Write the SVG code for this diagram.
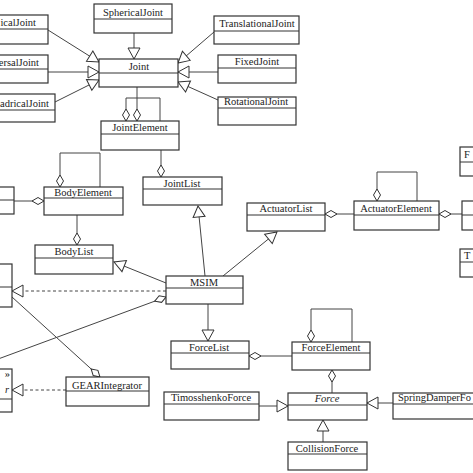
<svg xmlns="http://www.w3.org/2000/svg" width="473" height="473" viewBox="0 0 473 473">
<style>
.b{fill:#fff;stroke:#333;stroke-width:1.2}
.d{stroke:#333;stroke-width:1}
.t{font-family:"Liberation Serif","Times New Roman",serif;font-size:10.5px;fill:#222;text-anchor:middle}
.e{text-anchor:end}
.s{text-anchor:start}
.c{fill:none;stroke:#444;stroke-width:1}
.dash{stroke-dasharray:3,2.5}
</style>
<defs>
<marker id="tri" markerUnits="userSpaceOnUse" markerWidth="14" markerHeight="14" refX="11" refY="7" orient="auto" overflow="visible"><path d="M0,1 L11,7 L0,13 Z" fill="#fff" stroke="#333" stroke-width="1"/></marker>
<marker id="dia" markerUnits="userSpaceOnUse" markerWidth="14" markerHeight="8" refX="12" refY="3.5" orient="auto" overflow="visible"><path d="M0,3.5 L6,0 L12,3.5 L6,7 Z" fill="#fff" stroke="#333" stroke-width="1"/></marker>
</defs>
<rect width="473" height="473" fill="#fff"/>

<g id="connectors">
<path class="c" d="M48,30 L99,62" marker-end="url(#tri)"/>
<path class="c" d="M48,72 L99,72" marker-end="url(#tri)"/>
<path class="c" d="M55,102 L99,80" marker-end="url(#tri)"/>
<path class="c" d="M134,33 L134,59" marker-end="url(#tri)"/>
<path class="c" d="M214,32 L178,63" marker-end="url(#tri)"/>
<path class="c" d="M218,72 L178,72" marker-end="url(#tri)"/>
<path class="c" d="M218,100 L178,82" marker-end="url(#tri)"/>
<path class="c" d="M137,87 L137,121" marker-end="url(#dia)"/>
<path class="c" d="M160,121 L160,98 L126,98 L126,121" marker-end="url(#dia)"/>
<path class="c" d="M161,150 L161,177" marker-end="url(#dia)"/>
<path class="c" d="M100,187 L100,153 L60,153 L60,187" marker-end="url(#dia)"/>
<path class="c" d="M14,201 L44,201" marker-end="url(#dia)"/>
<path class="c" d="M77,215 L77,245" marker-end="url(#dia)"/>
<path class="c" d="M166,283 L114,262" marker-end="url(#tri)"/>
<path class="c" d="M205,276 L198,206" marker-end="url(#tri)"/>
<path class="c" d="M223,276 L277,232" marker-end="url(#tri)"/>
<path class="c dash" d="M166,291 L12,291" marker-end="url(#tri)"/>
<path class="c" d="M-10,362 L166,297" marker-end="url(#dia)"/>
<path class="c" d="M12,297 L100,377" marker-end="url(#dia)"/>
<path class="c dash" d="M66,390 L12,390" marker-end="url(#tri)"/>
<path class="c" d="M208,304 L208,341" marker-end="url(#tri)"/>
<path class="c" d="M292,356 L249,356" marker-end="url(#dia)"/>
<path class="c" d="M352,342 L352,309 L311,309 L311,342" marker-end="url(#dia)"/>
<path class="c" d="M332,393 L332,370" marker-end="url(#dia)"/>
<path class="c" d="M259,406 L288,406" marker-end="url(#tri)"/>
<path class="c" d="M393,403 L367,403" marker-end="url(#tri)"/>
<path class="c" d="M323,442 L323,420" marker-end="url(#tri)"/>
<path class="c" d="M354,214 L325,214" marker-end="url(#dia)"/>
<path class="c" d="M417,201 L417,172 L377,172 L377,201" marker-end="url(#dia)"/>
<path class="c" d="M462,214 L439,214" marker-end="url(#dia)"/>
</g>

<g id="icalJoint"><rect class="b" x="-5" y="15" width="53" height="29"/><line class="d" x1="-5" y1="29" x2="48" y2="29"/><text class="t e" x="36" y="26">icalJoint</text></g>
<g id="ersalJoint"><rect class="b" x="-5" y="55" width="53" height="28"/><line class="d" x1="-5" y1="69" x2="48" y2="69"/><text class="t e" x="39" y="66">ersalJoint</text></g>
<g id="adricalJoint"><rect class="b" x="-5" y="94" width="60" height="28"/><line class="d" x1="-5" y1="110" x2="55" y2="110"/><text class="t e" x="49" y="107">adricalJoint</text></g>
<g id="SphericalJoint"><rect class="b" x="94" y="4" width="78" height="29"/><line class="d" x1="94" y1="19" x2="172" y2="19"/><text class="t" x="133" y="16">SphericalJoint</text></g>
<g id="Joint"><rect class="b" x="99" y="59" width="79" height="28"/><line class="d" x1="99" y1="73" x2="178" y2="73"/><text class="t" x="139" y="70">Joint</text></g>
<g id="TranslationalJoint"><rect class="b" x="214" y="16" width="85" height="28"/><line class="d" x1="214" y1="31" x2="299" y2="31"/><text class="t" x="257" y="27" font-size="10">TranslationalJoint</text></g>
<g id="FixedJoint"><rect class="b" x="218" y="55" width="78" height="28"/><line class="d" x1="218" y1="68" x2="296" y2="68"/><text class="t" x="257" y="65">FixedJoint</text></g>
<g id="RotationalJoint"><rect class="b" x="218" y="97" width="78" height="28"/><line class="d" x1="218" y1="108" x2="296" y2="108"/><text class="t" x="256" y="105">RotationalJoint</text></g>
<g id="JointElement"><rect class="b" x="101" y="121" width="78" height="29"/><line class="d" x1="101" y1="134" x2="179" y2="134"/><text class="t" x="140" y="131">JointElement</text></g>
<g id="JointList"><rect class="b" x="143" y="177" width="79" height="28"/><line class="d" x1="143" y1="189" x2="222" y2="189"/><text class="t" x="182" y="187">JointList</text></g>
<g id="LeftBox1"><rect class="b" x="-5" y="187" width="19" height="27"/><line class="d" x1="-5" y1="200" x2="14" y2="200"/></g>
<g id="BodyElement"><rect class="b" x="44" y="187" width="79" height="28"/><line class="d" x1="44" y1="198" x2="123" y2="198"/><text class="t" x="83" y="196">BodyElement</text></g>
<g id="BodyList"><rect class="b" x="35" y="245" width="78" height="29"/><line class="d" x1="35" y1="258" x2="113" y2="258"/><text class="t" x="74" y="255">BodyList</text></g>
<g id="LeftInterface1"><rect class="b" x="-5" y="264" width="17" height="43"/><line class="d" x1="-5" y1="287" x2="12" y2="287"/></g>
<g id="MSIM"><rect class="b" x="166" y="276" width="77" height="28"/><line class="d" x1="166" y1="288" x2="243" y2="288"/><text class="t" x="204" y="286">MSIM</text></g>
<g id="ActuatorList"><rect class="b" x="247" y="203" width="78" height="28"/><line class="d" x1="247" y1="215" x2="325" y2="215"/><text class="t" x="286" y="212">ActuatorList</text></g>
<g id="ActuatorElement"><rect class="b" x="354" y="201" width="85" height="29"/><line class="d" x1="354" y1="215" x2="439" y2="215"/><text class="t" x="396" y="212">ActuatorElement</text></g>
<g id="RightF"><rect class="b" x="460" y="147" width="20" height="29"/><line class="d" x1="460" y1="162" x2="480" y2="162"/><text class="t s" x="464" y="158">F</text></g>
<g id="RightMid"><rect class="b" x="462" y="201" width="20" height="29"/><line class="d" x1="462" y1="215" x2="482" y2="215"/></g>
<g id="RightT"><rect class="b" x="460" y="249" width="20" height="28"/><line class="d" x1="460" y1="262" x2="480" y2="262"/><text class="t s" x="464" y="259">T</text></g>
<g id="ForceList"><rect class="b" x="171" y="341" width="78" height="28"/><line class="d" x1="171" y1="353" x2="249" y2="353"/><text class="t" x="209" y="351">ForceList</text></g>
<g id="ForceElement"><rect class="b" x="292" y="342" width="78" height="28"/><line class="d" x1="292" y1="353" x2="370" y2="353"/><text class="t" x="331" y="351">ForceElement</text></g>
<g id="Force"><rect class="b" x="288" y="393" width="79" height="27"/><line class="d" x1="288" y1="405" x2="367" y2="405"/><text class="t" x="327" y="402" font-style="italic">Force</text></g>
<g id="TimosshenkoForce"><rect class="b" x="164" y="392" width="95" height="28"/><line class="d" x1="164" y1="404" x2="259" y2="404"/><text class="t" x="211" y="401">TimosshenkoForce</text></g>
<g id="SpringDamperForce"><rect class="b" x="393" y="393" width="90" height="26"/><line class="d" x1="393" y1="404" x2="483" y2="404"/><text class="t s" x="398" y="401">SpringDamperFo</text></g>
<g id="CollisionForce"><rect class="b" x="288" y="442" width="79" height="28"/><line class="d" x1="288" y1="454" x2="367" y2="454"/><text class="t" x="327" y="452">CollisionForce</text></g>
<g id="GEARIntegrator"><rect class="b" x="66" y="377" width="83" height="29"/><line class="d" x1="66" y1="391" x2="149" y2="391"/><text class="t" x="107" y="389">GEARIntegrator</text></g>
<g id="Integrator"><rect class="b" x="-5" y="369" width="17" height="43"/><line class="d" x1="-5" y1="399" x2="12" y2="399"/><text class="t e" x="10" y="377" font-size="9">»</text><text class="t e" x="9" y="393" font-style="italic">r</text></g>
</svg>
